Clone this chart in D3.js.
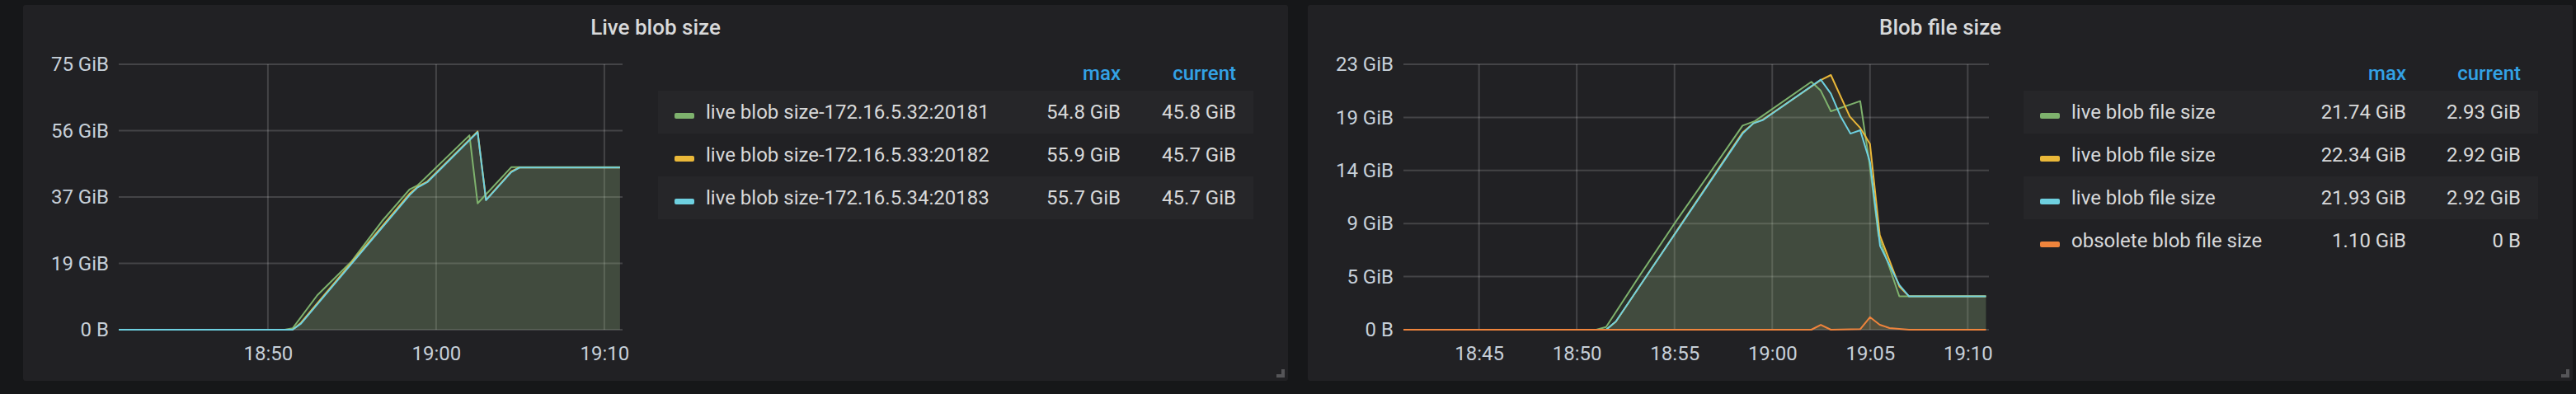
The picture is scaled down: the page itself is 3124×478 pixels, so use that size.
<!DOCTYPE html>
<meta charset="utf-8">
<head>
    <title>Blob size</title>
    <script src="https://cdn.jsdelivr.net/npm/d3@7/dist/d3.min.js"></script>
</head>

<style>
    body { margin: 0; background: #161719; }
    svg { display: block; }
    text { font-family: Roboto, "Noto Sans", sans-serif; }
    .tick text { fill: #c7d0d9; font-size: 24px; }
</style>
<svg id="chart"></svg>

<script>
    // shared time window of both panels
    var vRange = ["18:41:08", "19:11:05"];
    var vColors = ["#7eb26d", "#eab839", "#6ed0e0", "#ef843c"];

    // Live blob size, GiB
    var vLiveNames = ["live blob size-172.16.5.32:20181", "live blob size-172.16.5.33:20182", "live blob size-172.16.5.34:20183"];
    var vLiveTicks = [0, 18.7, 37.4, 56.1, 74.8];
    var vLiveTimes1 = ["18:41:08", "18:51:00", "18:51:28", "18:52:56", "18:54:59", "18:56:47", "18:58:25", "18:58:54", "19:01:59", "19:02:28", "19:04:28", "19:10:56"];
    var vLiveValues1 = [0, 0, 0.4, 9.7, 19.3, 30.6, 39.5, 40.7, 54.8, 35.6, 45.8, 45.8];
    var vLiveTimes2 = ["18:41:08", "18:51:28", "18:51:58", "18:58:25", "18:58:54", "18:59:29", "19:02:28", "19:02:58", "19:04:28", "19:04:57", "19:10:56"];
    var vLiveValues2 = [0, 0, 2.0, 38.3, 40.3, 41.8, 55.9, 36.6, 44.6, 45.7, 45.7];
    var vLiveTimes3 = ["18:41:08", "18:51:28", "18:51:58", "18:58:25", "18:58:54", "18:59:29", "19:02:28", "19:02:58", "19:04:28", "19:04:57", "19:10:56"];
    var vLiveValues3 = [0, 0, 1.7, 37.9, 40.1, 41.6, 55.7, 36.5, 44.4, 45.7, 45.7];

    // Blob file size, GiB
    var vFileNames = ["live blob file size", "live blob file size", "live blob file size", "obsolete blob file size"];
    var vFileTicks = [0, 4.656, 9.312, 13.968, 18.624, 23.28];
    var vFileTimes1 = ["18:41:08", "18:51:00", "18:51:30", "18:53:12", "18:55:02", "18:56:52", "18:58:29", "18:59:07", "19:02:00", "19:02:29", "19:03:00", "19:04:30", "19:04:57", "19:05:26", "19:06:30", "19:10:56"];
    var vFileValues1 = [0, 0, 0.24, 4.7, 9.4, 13.9, 17.9, 18.3, 21.74, 20.96, 19.16, 20.05, 14.9, 8.3, 2.93, 2.93];
    var vFileTimes2 = ["18:41:08", "18:51:30", "18:52:00", "18:58:29", "18:59:02", "18:59:32", "19:02:29", "19:03:00", "19:03:58", "19:04:30", "19:05:00", "19:05:30", "19:06:30", "19:07:00", "19:10:56"];
    var vFileValues2 = [0, 0, 0.7, 17.3, 18.1, 18.45, 21.9, 22.34, 18.7, 17.7, 16.3, 8.3, 3.8, 2.92, 2.92];
    var vFileTimes3 = ["18:41:08", "18:51:30", "18:52:00", "18:58:29", "18:59:02", "18:59:32", "19:02:29", "19:03:00", "19:03:30", "19:04:00", "19:04:30", "19:05:00", "19:05:31", "19:06:30", "19:07:00", "19:10:56"];
    var vFileValues3 = [0, 0, 0.72, 17.2, 18.1, 18.4, 21.93, 20.7, 18.7, 17.2, 17.5, 14.7, 7.35, 3.93, 2.92, 2.92];
    var vFileTimes4 = ["18:41:08", "19:02:00", "19:02:29", "19:03:00", "19:04:30", "19:05:00", "19:05:30", "19:06:00", "19:07:00", "19:10:56"];
    var vFileValues4 = [0, 0, 0.43, 0, 0.05, 1.10, 0.43, 0.15, 0, 0];

    var vParse = d3.timeParse("%H:%M:%S");
    function makeSeries(times, values) {
        return times.map(function (t, i) { return {t: vParse(t), v: values[i]}; });
    }

    var vPanels = [{
        title: "Live blob size", left: 28, width: 1534,
        plotLeft: 144, plotRight: 755, legendLeft: 798, maxRight: 1359,
        ticks: vLiveTicks, every: 10, digits: 1, names: vLiveNames,
        series: [makeSeries(vLiveTimes1, vLiveValues1), makeSeries(vLiveTimes2, vLiveValues2), makeSeries(vLiveTimes3, vLiveValues3)]
    }, {
        title: "Blob file size", left: 1586, width: 1534,
        plotLeft: 1702, plotRight: 2412, legendLeft: 2454, maxRight: 2918,
        ticks: vFileTicks, every: 5, digits: 2, names: vFileNames,
        series: [makeSeries(vFileTimes1, vFileValues1), makeSeries(vFileTimes2, vFileValues2), makeSeries(vFileTimes3, vFileValues3), makeSeries(vFileTimes4, vFileValues4)]
    }];

    var vTop = 6, vHeight = 456, vPlotTop = 78, vPlotBottom = 400;
    var svg = d3.select("#chart").attr("width", 3124).attr("height", 478);

    vPanels.forEach(function (p) {
        var g = svg.append("g");
        var vRight = p.left + p.width;

        g.append("rect").attr("x", p.left).attr("y", vTop).attr("width", p.width).attr("height", vHeight)
            .attr("rx", 3).attr("fill", "#212124");
        g.append("text").attr("x", p.left + p.width / 2).attr("y", 42).attr("text-anchor", "middle")
            .attr("font-size", 26).attr("font-weight", 500).attr("fill", "#d8d9da").text(p.title);

        var x = d3.scaleTime().domain(vRange.map(vParse)).range([p.plotLeft, p.plotRight]);
        var y = d3.scaleLinear().domain([0, p.ticks[p.ticks.length - 1]]).range([vPlotBottom, vPlotTop]);
        var xTicks = x.ticks(d3.timeMinute.every(p.every));

        // grid
        g.selectAll(".hgrid").data(p.ticks).enter().append("line")
            .attr("x1", p.plotLeft).attr("x2", p.plotRight)
            .attr("y1", function (d) { return y(d); }).attr("y2", function (d) { return y(d); })
            .attr("stroke", "rgba(255,255,255,0.16)").attr("stroke-width", 2);
        g.selectAll(".vgrid").data(xTicks).enter().append("line")
            .attr("x1", function (d) { return x(d); }).attr("x2", function (d) { return x(d); })
            .attr("y1", vPlotTop).attr("y2", vPlotBottom)
            .attr("stroke", "rgba(255,255,255,0.16)").attr("stroke-width", 2);

        // axes
        var yAxis = g.append("g").attr("transform", "translate(" + p.plotLeft + ",0)")
            .call(d3.axisLeft(y).tickValues(p.ticks).tickSize(0).tickPadding(12)
                .tickFormat(function (d) { return d === 0 ? "0 B" : d3.format(".0f")(d) + " GiB"; }));
        var xAxis = g.append("g").attr("transform", "translate(0," + vPlotBottom + ")")
            .call(d3.axisBottom(x).tickValues(xTicks).tickSize(0).tickPadding(20)
                .tickFormat(d3.timeFormat("%H:%M")));
        yAxis.select(".domain").remove();
        xAxis.select(".domain").remove();
        g.selectAll(".tick text").attr("font-family", null).attr("font-size", null);

        // fills, then lines
        var area = d3.area().x(function (d) { return x(d.t); }).y0(y(0)).y1(function (d) { return y(d.v); });
        var line = d3.line().x(function (d) { return x(d.t); }).y(function (d) { return y(d.v); });
        g.selectAll(".fill").data(p.series).enter().append("path")
            .attr("d", area).attr("fill", function (d, i) { return vColors[i]; }).attr("fill-opacity", 0.1);
        g.selectAll(".line").data(p.series).enter().append("path")
            .attr("d", line).attr("fill", "none").attr("stroke-width", 2).attr("stroke-linejoin", "round")
            .attr("stroke", function (d, i) { return vColors[i]; });

        // legend table
        var vLegendRight = vRight - 42;
        var vCurRight = vLegendRight - 21;
        var fmt = function (v) { return v === 0 ? "0 B" : v.toFixed(p.digits) + " GiB"; };
        g.append("text").attr("x", p.maxRight).attr("y", 97).attr("text-anchor", "end")
            .attr("font-size", 24).attr("font-weight", 500).attr("fill", "#33a2e5").text("max");
        g.append("text").attr("x", vCurRight).attr("y", 97).attr("text-anchor", "end")
            .attr("font-size", 24).attr("font-weight", 500).attr("fill", "#33a2e5").text("current");

        var rows = g.selectAll(".row").data(p.series).enter().append("g")
            .attr("transform", function (d, i) { return "translate(0," + (110 + i * 52) + ")"; });
        rows.append("rect").attr("x", p.legendLeft).attr("width", vLegendRight - p.legendLeft).attr("height", 52)
            .attr("fill", function (d, i) { return i % 2 === 0 ? "#262629" : "none"; });
        rows.append("rect").attr("x", p.legendLeft + 20).attr("y", 27).attr("width", 24).attr("height", 7)
            .attr("rx", 2).attr("fill", function (d, i) { return vColors[i]; });
        rows.append("text").attr("x", p.legendLeft + 58).attr("y", 34).attr("font-size", 24).attr("fill", "#d8d9da")
            .text(function (d, i) { return p.names[i]; });
        rows.append("text").attr("x", p.maxRight).attr("y", 34).attr("text-anchor", "end")
            .attr("font-size", 24).attr("fill", "#d8d9da")
            .text(function (d) { return fmt(d3.max(d, function (e) { return e.v; })); });
        rows.append("text").attr("x", vCurRight).attr("y", 34).attr("text-anchor", "end")
            .attr("font-size", 24).attr("fill", "#d8d9da")
            .text(function (d) { return fmt(d[d.length - 1].v); });

        // resize handle
        g.append("path").attr("fill", "#555558")
            .attr("d", "M" + (vRight - 14) + "," + (vTop + vHeight - 8) + "h6v-6h4v10h-10z");
    });
</script>
